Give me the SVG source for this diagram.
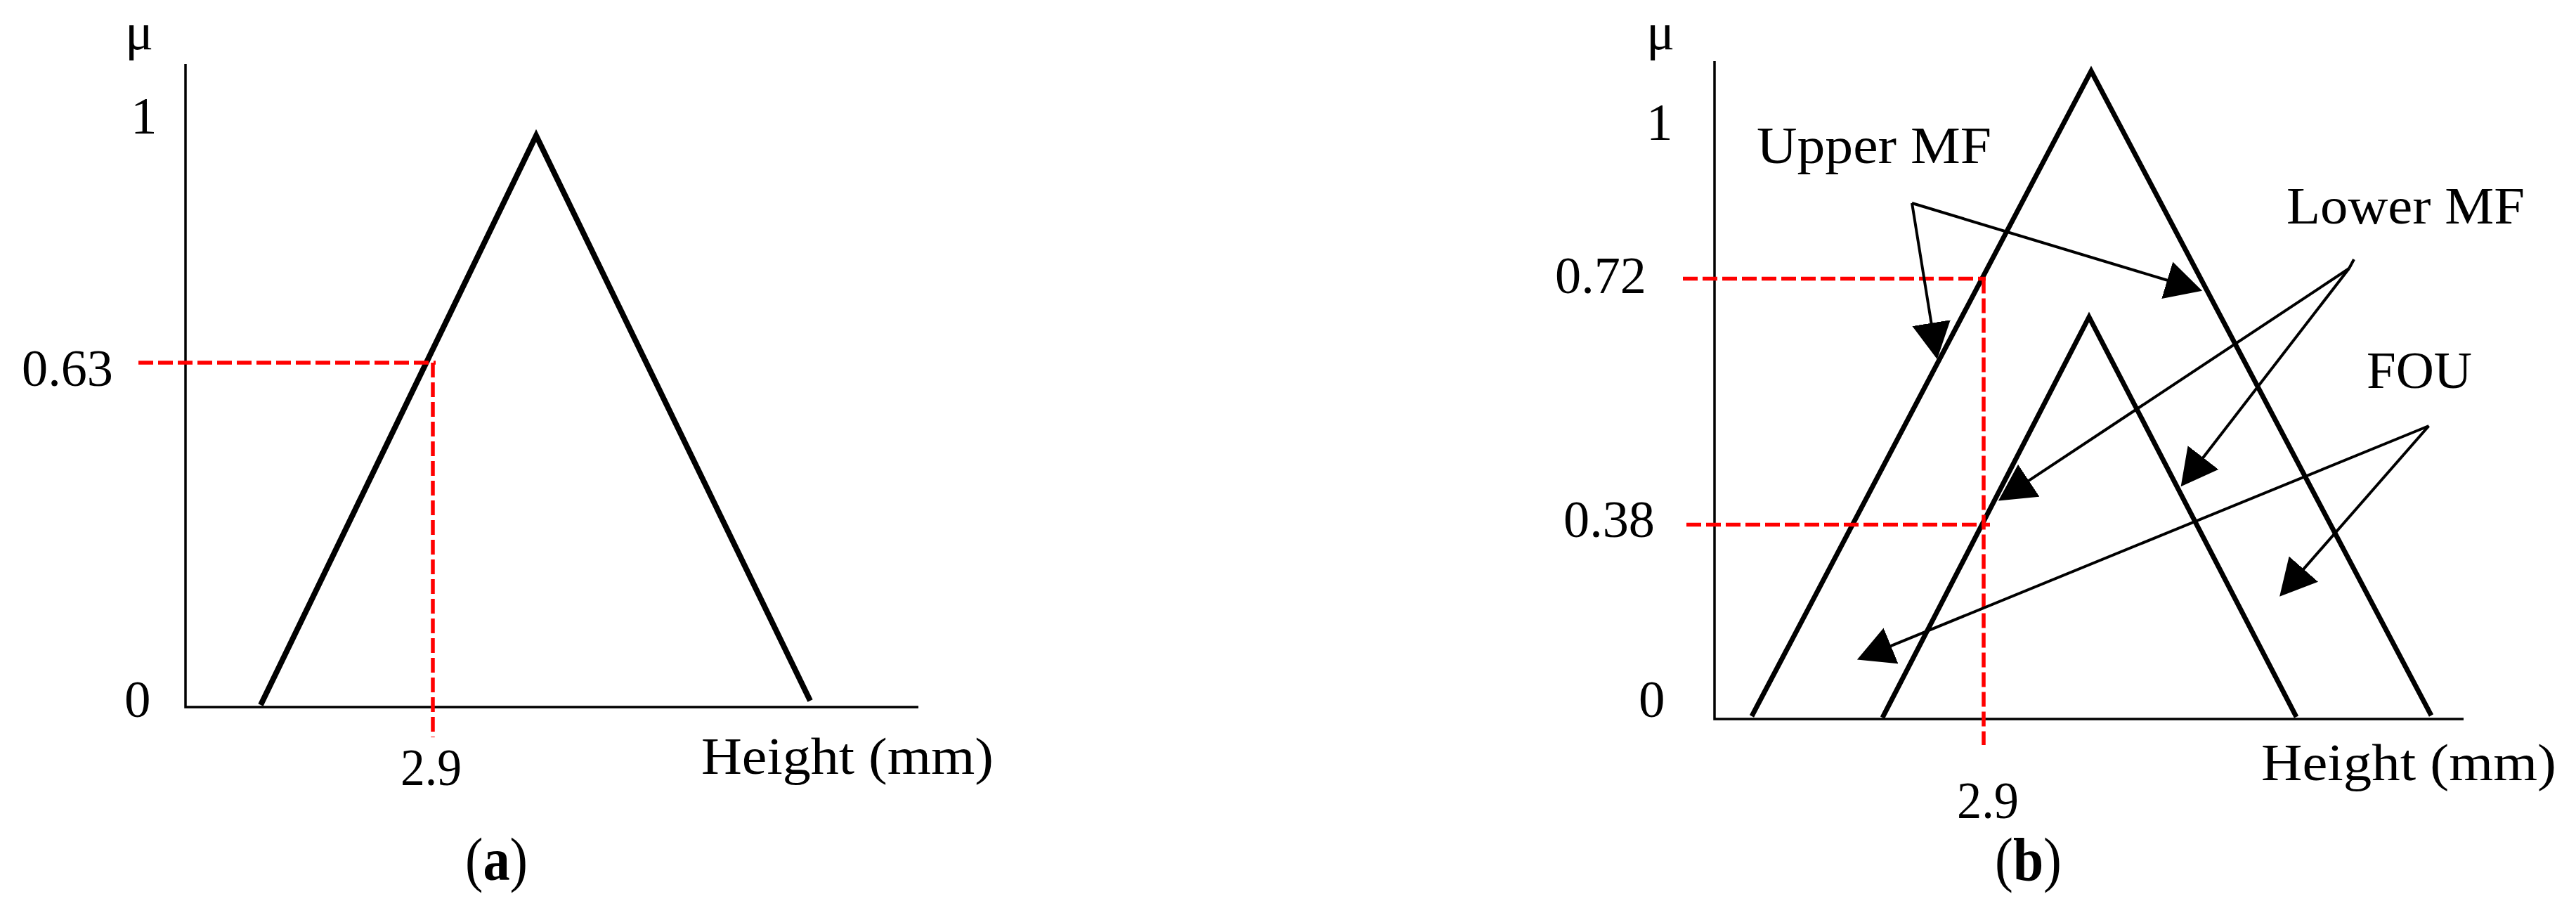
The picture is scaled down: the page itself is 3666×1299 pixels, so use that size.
<svg xmlns="http://www.w3.org/2000/svg" width="3666" height="1299" viewBox="0 0 3666 1299">
  <style>
    text { font-family: "Liberation Serif", "Times New Roman", serif; font-size: 75px; fill: #000; }
    .caption { font-size: 86px; }
    .axis { stroke: #000; stroke-width: 3.5; fill: none; }
    .mf { stroke: #000; stroke-width: 7; fill: none; stroke-linejoin: miter; }
    .guide { stroke: #FF0000; stroke-width: 5.5; stroke-dasharray: 21 7; fill: none; }
    .arrow { stroke: #000; stroke-width: 4; fill: none; marker-end: url(#head); }
    .thin { stroke: #000; stroke-width: 4; fill: none; }
  </style>
  <defs>
    <marker id="head" markerUnits="userSpaceOnUse" viewBox="0 -27.5 52 55" markerWidth="52" markerHeight="55" refX="1" refY="0" orient="auto">
      <path d="M0,-27.5 L52,0 L0,27.5 Z" fill="#000"/>
    </marker>
  </defs>
  <rect width="3666" height="1299" fill="#fff"/>

  <!-- Panel (a) -->
  <g id="panel-a">
    <g id="a-axes">
      <polyline class="axis" points="264,91 264,1006 1307,1006"/>
    </g>
    <g id="a-mf">
      <polyline class="mf" style="stroke-width:8" points="371,1003 763,193 1153,997"/>
    </g>
    <g id="a-guides">
      <line class="guide" x1="197" y1="516" x2="620" y2="516"/>
      <line class="guide" x1="616" y1="516" x2="616" y2="1049"/>
    </g>
    <g id="a-labels">
      <text x="178" y="70">μ</text>
      <text x="186" y="190">1</text>
      <text x="31" y="549" textLength="130" lengthAdjust="spacingAndGlyphs">0.63</text>
      <text x="177" y="1020">0</text>
      <text x="570" y="1117" textLength="87" lengthAdjust="spacingAndGlyphs">2.9</text>
      <text x="998" y="1101" textLength="416" lengthAdjust="spacingAndGlyphs">Height (mm)</text>
      <text class="caption" x="662" y="1252" textLength="89" lengthAdjust="spacingAndGlyphs">(<tspan font-weight="bold">a</tspan>)</text>
    </g>
  </g>

  <!-- Panel (b) -->
  <g id="panel-b">
    <g id="b-axes">
      <polyline class="axis" points="2440,87 2440,1023 3506,1023"/>
    </g>
    <g id="upper-mf">
      <polyline class="mf" points="2493,1019 2976,101 3460,1018"/>
    </g>
    <g id="lower-mf">
      <polyline class="mf" points="2679,1021 2973,451 3268,1020"/>
    </g>
    <g id="b-guides">
      <line class="guide" x1="2395" y1="396.5" x2="2826" y2="396.5"/>
      <line class="guide" x1="2400" y1="746.5" x2="2832" y2="746.5"/>
      <line class="guide" x1="2823" y1="396.5" x2="2823" y2="1060"/>
    </g>
    <g id="b-labels">
      <text x="2343" y="70">μ</text>
      <text x="2343" y="199">1</text>
      <text x="2213" y="417" textLength="130" lengthAdjust="spacingAndGlyphs">0.72</text>
      <text x="2225" y="764" textLength="130" lengthAdjust="spacingAndGlyphs">0.38</text>
      <text x="2332" y="1020">0</text>
      <text x="2785" y="1164" textLength="88" lengthAdjust="spacingAndGlyphs">2.9</text>
      <text x="3218" y="1110" textLength="420" lengthAdjust="spacingAndGlyphs">Height (mm)</text>
      <text class="caption" x="2839" y="1252" textLength="95" lengthAdjust="spacingAndGlyphs">(<tspan font-weight="bold">b</tspan>)</text>
    </g>
    <g id="label-upper-mf">
      <text x="2500" y="232" textLength="334" lengthAdjust="spacingAndGlyphs">Upper MF</text>
    </g>
    <g id="label-lower-mf">
      <text x="3254" y="318" textLength="339" lengthAdjust="spacingAndGlyphs">Lower MF</text>
    </g>
    <g id="label-fou">
      <text x="3368" y="552" textLength="150" lengthAdjust="spacingAndGlyphs">FOU</text>
    </g>
  </g>

  <!-- Connectors -->
  <g id="connectors">
    <line class="arrow" x1="2721" y1="289" x2="3085.2" y2="399.0"/>
    <line class="arrow" x1="2721" y1="289" x2="2748.7" y2="460.7"/>
    <line class="thin" x1="3350" y1="369" x2="3343" y2="382"/>
    <line class="arrow" x1="3343" y1="382" x2="2886.4" y2="684.3"/>
    <line class="arrow" x1="3343" y1="382" x2="3134.8" y2="651.8"/>
    <line class="arrow" x1="3456.5" y1="606" x2="2690.1" y2="919.3"/>
    <line class="arrow" x1="3456.5" y1="606" x2="3277.7" y2="810.4"/>
  </g>
</svg>
